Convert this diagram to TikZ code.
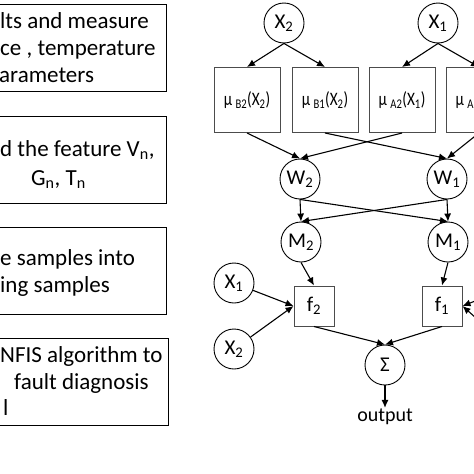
\documentclass[tikz,border=0pt]{standalone}
\usepackage{fontspec}
\setmainfont{Carlito}
\newfontfamily\narrowfont[FakeStretch=0.8]{Carlito}
\usetikzlibrary{arrows.meta}

\begin{document}
\begin{tikzpicture}
      [x = 1pt, y = -1pt,
      link/.style={-{Latex[length = 8pt, width = 7pt]}, line width = 1.1pt},
      stepbox/.style= {
         draw,
         line width = 1pt,
         rectangle,
         inner sep = 0pt,
         minimum width = 270pt,
         minimum height = 87pt
      },
      steptext/.style= {
         anchor = base west,
         inner sep = 0pt,
         font = \fontsize{23}{27}\selectfont
      },
      var/.style= {
         draw,
         circle,
         line width = 0.9pt,
         inner sep = 0pt,
         minimum size = 40pt,
         font = \fontsize{21}{23}\selectfont
      },
      mf/.style= {
         draw = black!70,
         rectangle,
         line width = 1pt,
         inner sep = 0pt,
         minimum width = 66pt,
         minimum height = 65pt,
         font = \narrowfont\fontsize{19}{21}\selectfont
      },
      rule/.style= {
         draw = black!70,
         rectangle,
         line width = 1pt,
         inner sep = 0pt,
         minimum size = 40pt,
         font = \fontsize{21}{23}\selectfont
      }]

      \useasboundingbox (0, 0) rectangle (474, 474);
      \clip (0, 0) rectangle (474, 474);

      \node[stepbox, anchor = north east] (step1) at (167, 4) {};
      \node[stepbox, anchor = north east] (step2) at (167, 116) {};
      \node[stepbox, anchor = north east] (step3) at (167, 227) {};
      \node[stepbox, anchor = north east] (step4) at (169, 338) {};

      \node[steptext] (t11) at (0, 28) {lts and measure};
      \node[steptext] (t12) at (0, 55) {ce , temperature};
      \node[steptext] (t13) at (-1, 82) {arameters};
      \node[steptext] (t21) at (0, 156) {d the feature V\textsubscript{n},};
      \node[steptext] (t22) at (31, 185) {G\textsubscript{n}, T\textsubscript{n}};
      \node[steptext] (t31) at (0, 265) {e samples into};
      \node[steptext] (t32) at (0, 292) {ing samples};
      \node[steptext] (t41) at (0, 362) {NFIS algorithm to};
      \node[steptext] (t42) at (14, 389) {fault diagnosis};
      \node[steptext] (t43) at (3, 415) {l};

      \node[var] (X2) at (284, 23) {X\textsubscript{2}};
      \node[var] (X1) at (438, 23) {X\textsubscript{1}};

      \node[mf] (B2) at (247, 100) {μ \textsubscript{B2}(X\textsubscript{2})};
      \node[mf] (B1) at (325, 100) {μ \textsubscript{B1}(X\textsubscript{2})};
      \node[mf] (A2) at (402, 100) {μ \textsubscript{A2}(X\textsubscript{1})};
      \node[mf] (A1) at (479, 100) {μ \textsubscript{A1}(X\textsubscript{1})};

      \node[var] (W2) at (300, 179) {W\textsubscript{2}};
      \node[var] (W1) at (447, 179) {W\textsubscript{1}};
      \node[var] (M2) at (301, 242) {M\textsubscript{2}};
      \node[var] (M1) at (448, 242) {M\textsubscript{1}};

      \node[rule] (f2) at (314, 306) {f\textsubscript{2}};
      \node[rule] (f1) at (442, 306) {f\textsubscript{1}};
      \node[var] (in1) at (234, 283) {X\textsubscript{1}};
      \node[var] (in2) at (234, 349) {X\textsubscript{2}};
      \coordinate (c1) at (503, 290);
      \coordinate (c2) at (503, 342);

      \node[var] (sum) at (385, 365) {Σ};
      \node[inner sep = 1pt, font = \fontsize{20}{22}\selectfont] (out) at (385, 417) {output};

      \draw[link] (X2.south) -- (B2.north);
      \draw[link] (X2.south) -- (B1.north);
      \draw[link] (X1.south) -- (A2.north);
      \draw[link] (X1.south) -- (A1.north);

      \draw[link] (B2.south) -- (W2.north);
      \draw[link] (A2.south) -- (W2.north);
      \draw[link] (B1.south) -- (W1.north);
      \draw[link] (A1.south) -- (W1.north);

      \draw[link] (W2.south) -- (M2.north);
      \draw[link] (W2.south) -- (M1.north);
      \draw[link] (W1.south) -- (M2.north);
      \draw[link] (W1.south) -- (M1.north);

      \draw[link] (M2.south) -- (f2.north);
      \draw[link] (M1.south) -- (f1.north);
      \draw[link] (in1) -- (f2.west);
      \draw[link] (in2) -- (f2.west);
      \draw[link] (c1) -- (f1.east);
      \draw[link] (c2) -- (f1.east);

      \draw[link] (f2.south) -- (sum.north);
      \draw[link] (f1.south) -- (sum.north);
      \draw[link] (sum.south) -- (out.north);

   \end{tikzpicture}
\end{document}
